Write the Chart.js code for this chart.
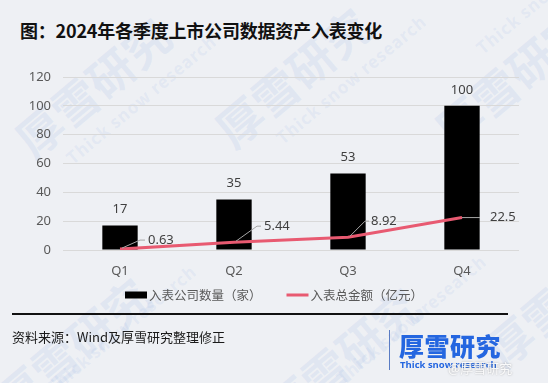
<!DOCTYPE html>
<html>
<head>
<meta charset="utf-8">
<script src="https://cdn.jsdelivr.net/npm/chart.js@4"></script>
<style>
  html, body { margin:0; padding:0; }
  body { width:548px; height:383px; background:#eef0f4; position:relative; overflow:hidden;
         font-family:"Noto Sans CJK SC","Noto Sans",sans-serif; }
  .wm { position:absolute; color:rgba(150,180,230,0.16); white-space:nowrap; transform:rotate(-40deg); transform-origin:left top; pointer-events:none; }
  .wm.big { font-size:46px; font-weight:700; }
  .wm.small { font-size:17px; font-weight:700; color:rgba(150,180,230,0.15); letter-spacing:1px; }
  #title { position:absolute; left:20px; top:17px; font-size:18px; font-weight:700; color:#111; letter-spacing:-0.2px; }
  #wrap { position:absolute; left:0; top:0; width:548px; height:383px; }
  #rule { position:absolute; left:12px; top:313px; width:496px; height:1.5px; background:#111; }
  #source { position:absolute; left:12px; top:327px; font-size:13px; color:#1a1a1a; }
  #vbar { position:absolute; left:389px; top:330px; width:1px; height:40px; background:#5a7cc4; }
  #logo { position:absolute; left:399px; top:327px; font-size:25px; font-weight:900; color:#2466e0; letter-spacing:0.5px; }
  #logo2 { position:absolute; left:400px; top:358px; font-size:9.5px; font-weight:700; color:#2466e0; font-family:"Open Sans","Noto Sans",sans-serif; }
  #weibo { position:absolute; left:448px; top:358px; font-size:13px; color:rgba(255,255,255,0.9); text-shadow:0 0 2px rgba(120,120,120,0.6); }
</style>
</head>
<body>
<div class="wm big" style="left:0px;top:120px;">厚雪研究</div>
<div class="wm small" style="left:60px;top:150px;">Thick snow research</div>
<div class="wm big" style="left:200px;top:110px;">厚雪研究</div>
<div class="wm small" style="left:270px;top:130px;">Thick snow research</div>
<div class="wm big" style="left:420px;top:110px;">厚雪研究</div>
<div class="wm small" style="left:470px;top:40px;">Thick snow research</div>
<div class="wm big" style="left:-20px;top:380px;">厚雪研究</div>
<div class="wm small" style="left:40px;top:380px;">Thick snow research</div>
<div class="wm big" style="left:250px;top:390px;">厚雪研究</div>
<div class="wm small" style="left:330px;top:370px;">Thick snow research</div>
<div class="wm big" style="left:470px;top:330px;">厚雪研究</div>

<div id="title">图：2024年各季度上市公司数据资产入表变化</div>
<div id="wrap"><canvas id="c" width="548" height="383"></canvas></div>
<div id="rule"></div>
<div id="source">资料来源：Wind及厚雪研究整理修正</div>
<div id="vbar"></div>
<div id="logo">厚雪研究</div>
<div id="logo2">Thick snow research</div>
<div id="weibo">@厚雪研究</div>

<script>
const categories = ["Q1", "Q2", "Q3", "Q4"];
const companyCounts = [17, 35, 53, 100];
const totalAmounts = [0.63, 5.44, 8.92, 22.5];
const seriesNames = ["入表公司数量（家）", "入表总金额（亿元）"];
const yAxisMin = 0, yAxisMax = 120, yAxisStep = 20;

const FONT = '"Noto Sans","Noto Sans CJK SC",sans-serif';
const CJK = '"Noto Sans CJK SC","Noto Sans",sans-serif';
const BAR_COLOR = '#000000';
const LINE_COLOR = '#e85a71';

// callout offsets for line labels (relative to the point)
const callouts = [
  {ex:20, ey:-9, hx:25, tx:28},
  {ex:23, ey:-16, hx:27, tx:30},
  {ex:17, ey:-16, hx:21, tx:23},
  {ex:18, ey:0, hx:18, tx:28}
];

const labelPlugin = {
  id: 'valueLabels',
  afterDatasetsDraw(chart) {
    const ctx = chart.ctx;
    const lineMeta = chart.getDatasetMeta(0);
    const barMeta = chart.getDatasetMeta(1);
    ctx.save();
    ctx.font = '13px ' + FONT;
    ctx.fillStyle = '#404040';
    ctx.textBaseline = 'middle';
    ctx.textAlign = 'center';
    barMeta.data.forEach((el, i) => {
      ctx.fillText(String(companyCounts[i]), el.x, el.y - 16);
    });
    lineMeta.data.forEach((pt, i) => {
      const o = callouts[i];
      ctx.strokeStyle = '#a6a6a6';
      ctx.lineWidth = 1;
      ctx.beginPath();
      ctx.moveTo(pt.x + (o.ey === 0 ? 0 : 2), pt.y + (o.ey === 0 ? 0 : -1));
      ctx.lineTo(pt.x + o.ex, pt.y + o.ey);
      ctx.lineTo(pt.x + o.hx, pt.y + o.ey);
      ctx.stroke();
      ctx.textAlign = 'left';
      ctx.fillText(String(totalAmounts[i]), pt.x + o.tx, pt.y + o.ey);
    });
    ctx.restore();
  }
};

const legendPlugin = {
  id: 'customLegend',
  afterDraw(chart) {
    const ctx = chart.ctx;
    ctx.save();
    ctx.font = '12.5px ' + CJK;
    ctx.textBaseline = 'middle';
    ctx.textAlign = 'left';
    const y = 295;
    const sw = 22, gapText = 2, gapItems = 25;
    const w1 = ctx.measureText(seriesNames[0]).width;
    const w2 = ctx.measureText(seriesNames[1]).width;
    const total = sw + gapText + w1 + gapItems + sw + gapText + w2;
    let x = chart.width / 2 - total / 2;
    ctx.fillStyle = BAR_COLOR;
    ctx.fillRect(x, y - 3.5, sw, 7);
    x += sw + gapText;
    ctx.fillStyle = '#595959';
    ctx.fillText(seriesNames[0], x, y);
    x += w1 + gapItems;
    ctx.strokeStyle = LINE_COLOR;
    ctx.lineWidth = 3;
    ctx.beginPath(); ctx.moveTo(x, y); ctx.lineTo(x + sw, y); ctx.stroke();
    x += sw + gapText;
    ctx.fillText(seriesNames[1], x, y);
    ctx.restore();
  }
};

new Chart(document.getElementById('c'), {
  data: {
    labels: categories,
    datasets: [
      {
        type: 'line', label: seriesNames[1], data: totalAmounts,
        borderColor: LINE_COLOR, backgroundColor: LINE_COLOR,
        borderWidth: 3, pointRadius: 0, tension: 0, order: 0
      },
      {
        type: 'bar', label: seriesNames[0], data: companyCounts,
        backgroundColor: BAR_COLOR, borderWidth: 0,
        barPercentage: 0.31, categoryPercentage: 1, order: 1
      }
    ]
  },
  options: {
    responsive: false,
    animation: false,
    devicePixelRatio: 1,
    layout: { padding: { top: 77, left: 0, right: 29, bottom: 103 } },
    plugins: { legend: { display: false }, tooltip: { enabled: false }, title: { display: false } },
    scales: {
      x: {
        grid: { display: false, drawTicks: false },
        border: { display: false },
        ticks: { color: '#595959', font: { family: FONT, size: 13 }, padding: 13 },
        afterFit(s) { s.height = 30; }
      },
      y: {
        min: yAxisMin, max: yAxisMax,
        grid: { color: '#d9d9d9', lineWidth: 1, drawTicks: false },
        border: { display: false },
        ticks: { stepSize: yAxisStep, color: '#595959', font: { family: FONT, size: 13 }, padding: 12 },
        afterFit(s) { s.width = 63; }
      }
    }
  },
  plugins: [labelPlugin, legendPlugin]
});
</script>
</body>
</html>
